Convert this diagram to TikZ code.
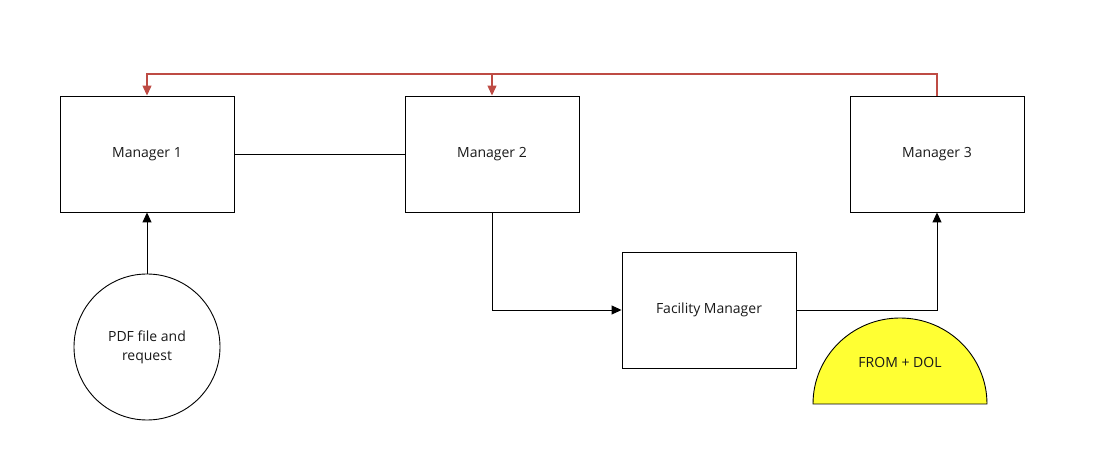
\documentclass[tikz,border=0pt]{standalone}
\usepackage{fontspec}
\setmainfont{Open Sans}
\usetikzlibrary{arrows.meta}
\definecolor{redline}{RGB}{190,75,68}
\definecolor{fillyellow}{RGB}{255,255,51}
\definecolor{txt}{RGB}{25,25,25}
\tikzset{
  lbl/.style={text=txt, font=\fontsize{14}{19}\selectfont, align=center},
  box/.style={lbl, draw=black, line width=0.9pt, minimum width=174pt, minimum height=116pt, inner sep=0pt},
  roundbox/.style={lbl, draw=black, line width=0.9pt, circle, minimum size=146pt, inner sep=0pt},
  conn/.style={line width=0.9pt, draw=black},
  redconn/.style={line width=1.2pt, draw=redline},
  tip/.style={-{Triangle[length=10pt,width=9pt]}},
}
\begin{document}
\begin{tikzpicture}[x=1pt,y=-1pt]
\useasboundingbox (0,0) rectangle (1101,454);
\node[box] (m1) at (147,154) {Manager 1};
\node[box] (m2) at (492,154) {Manager 2};
\node[box] (m3) at (937,154) {Manager 3};
\node[box] (fm) at (709,310) {Facility Manager};
\node[roundbox] (pdf) at (147,347) {PDF file and\\request};
\draw[line width=0.9pt, fill=fillyellow] (813,404) arc[start angle=180, end angle=0, x radius=87pt, y radius=86pt] -- cycle;
\node[lbl] (from) at (900,362) {FROM + DOL};
\draw[conn] (m1.east) -- (m2.west);
\draw[conn, tip] (pdf.north) -- (m1.south);
\draw[conn, tip] (m2.south) |- (fm.west);
\draw[conn, tip] (fm.east) -| (m3.south);
\coordinate (top3) at (937,74);
\coordinate (top1) at (147,74);
\coordinate (top2) at (492,74);
\draw[redconn, tip] (m3.north) -- (top3) -- (top1) -- (m1.north);
\draw[redconn, tip] (top2) -- (m2.north);
\end{tikzpicture}
\end{document}
